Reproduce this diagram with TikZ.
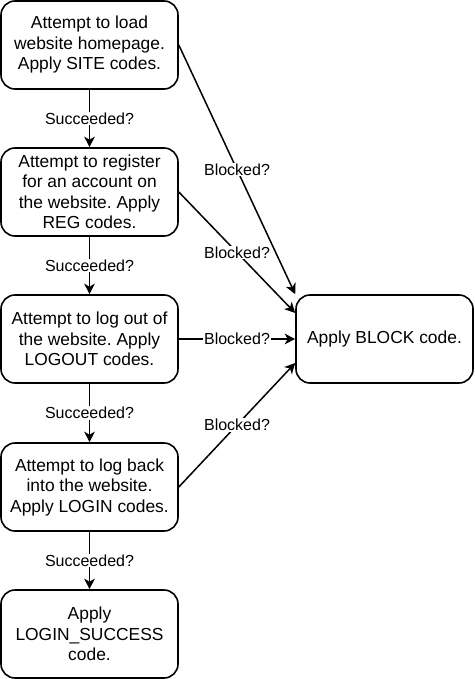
\documentclass[tikz,border=0pt]{standalone}
\usepackage{fontspec}
\setmainfont{Liberation Sans}
\usetikzlibrary{arrows.meta}
\frenchspacing
\begin{document}
\begin{tikzpicture}[x=1pt,y=-1pt,
  box/.style={draw, line width=1.6pt, rounded corners=14pt, minimum width=177pt, minimum height=88pt,
    align=center, inner sep=0pt, font=\fontsize{17.4}{20.5}\selectfont},
  lbl/.style={fill=white, inner sep=1pt, font=\fontsize{16}{18}\selectfont},
  conn/.style={line width=1.5pt, -{Stealth[length=10.5pt,width=10.5pt,inset=3pt]}}]
\useasboundingbox (0,0) rectangle (474,679);
\node[box] (b1) at (89.5,45) {Attempt to load\\website homepage.\\Apply SITE codes.};
\node[box] (b2) at (89.5,192) {Attempt to register\\for an account on\\the website. Apply\\REG codes.};
\node[box] (b3) at (89.5,339) {Attempt to log out of\\the website. Apply\\LOGOUT codes.};
\node[box] (b4) at (89.5,487) {Attempt to log back\\into the website.\\Apply LOGIN codes.};
\node[box] (b5) at (89.5,634) {Apply\\LOGIN\_SUCCESS\\code.};
\node[box] (blk) at (384.5,339) {Apply BLOCK code.};
\draw[conn] (b1.south) -- node[lbl]{Succeeded?} (b2.north);
\draw[conn] (b2.south) -- node[lbl]{Succeeded?} (b3.north);
\draw[conn] (b3.south) -- node[lbl]{Succeeded?} (b4.north);
\draw[conn] (b4.south) -- node[lbl]{Succeeded?} (b5.north);
\draw[conn] (b1.east) -- node[lbl]{Blocked?} (blk.north west);
\draw[conn] (b2.east) -- node[lbl]{Blocked?} ([yshift=26pt]blk.west);
\draw[conn] (b3.east) -- node[lbl]{Blocked?} (blk.west);
\draw[conn] (b4.east) -- node[lbl]{Blocked?} ([yshift=-24pt]blk.west);
\end{tikzpicture}
\end{document}
